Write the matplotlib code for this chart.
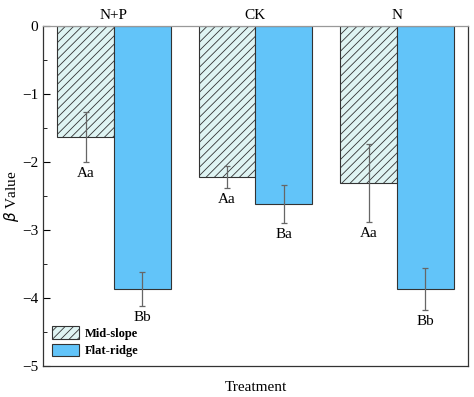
import matplotlib.pyplot as plt
import numpy as np

treatments = ['N+P', 'CK', 'N']
mid_slope = [-1.63, -2.22, -2.31]
mid_err = [0.37, 0.16, 0.57]
flat_ridge = [-3.87, -2.62, -3.87]
flat_err = [0.25, 0.28, 0.31]
mid_labels = ['Aa', 'Aa', 'Aa']
flat_labels = ['Bb', 'Ba', 'Bb']

plt.rcParams['font.family'] = ['Liberation Serif', 'DejaVu Serif']
plt.rcParams['hatch.linewidth'] = 0.6

fig = plt.figure(figsize=(4.74, 3.97), dpi=100)
ax = fig.add_axes([0.091, 0.078, 0.896, 0.857])

x = np.arange(len(treatments))
w = 0.4
edge = '#333333'
ax.bar(x - w/2, mid_slope, w, color='#dff4f3', edgecolor=edge, hatch='////',
       linewidth=0.8, label='Mid-slope')
ax.bar(x + w/2, flat_ridge, w, color='#62c4f9', edgecolor=edge,
       linewidth=0.8, label='Flat-ridge')
ax.errorbar(x - w/2, mid_slope, yerr=mid_err, fmt='none', ecolor='#666666',
            elinewidth=0.9, capsize=2.5, capthick=0.9)
ax.errorbar(x + w/2, flat_ridge, yerr=flat_err, fmt='none', ecolor='#666666',
            elinewidth=0.9, capsize=2.5, capthick=0.9)

for i in range(len(x)):
    ax.text(x[i] - w/2, mid_slope[i] - mid_err[i] - 0.07, mid_labels[i],
            ha='center', va='top', fontsize=11)
    ax.text(x[i] + w/2, flat_ridge[i] - flat_err[i] - 0.07, flat_labels[i],
            ha='center', va='top', fontsize=11)

ax.set_xlim(-0.5, 2.5)
ax.set_ylim(-5, 0)
ax.set_yticks([0, -1, -2, -3, -4, -5])
ax.set_yticklabels(['0', '\u22121', '\u22122', '\u22123', '\u22124', '\u22125'])
ax.set_yticks(np.arange(-4.5, 0, 1.0), minor=True)
ax.tick_params(axis='y', which='major', direction='in', length=5, labelsize=11)
ax.tick_params(axis='y', which='minor', direction='in', length=3)
ax.xaxis.tick_top()
ax.set_xticks(x)
ax.set_xticklabels(treatments, fontsize=11)
ax.tick_params(axis='x', length=0, pad=3)

for s in ax.spines.values():
    s.set_color('#333333')
    s.set_linewidth(0.9)
ax.spines['top'].set_color('#999999')

ax.set_ylabel(r'$\beta$ Value', fontsize=11, labelpad=1)
ax.text(0.5, -0.045, 'Treatment', transform=ax.transAxes, ha='center',
        va='top', fontsize=11)

leg = ax.legend(loc='lower left', frameon=False, prop={'weight': 'bold', 'size': 9},
                handlelength=2.2, handleheight=1.2, borderaxespad=0.3,
                labelspacing=0.3, handletextpad=0.4)

plt.savefig('out.png', dpi=100)
